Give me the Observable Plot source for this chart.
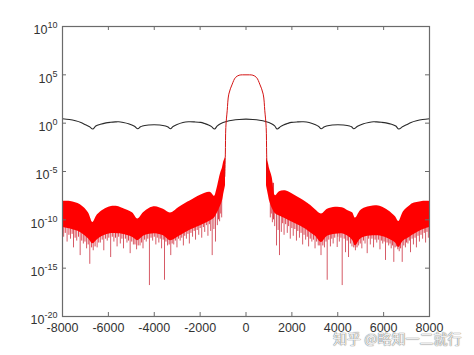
<!DOCTYPE html>
<html>
<head>
<meta charset="utf-8">
<script src="https://cdn.jsdelivr.net/npm/d3@7"></script>
<script src="https://cdn.jsdelivr.net/npm/@observablehq/plot@0.6"></script>
<style>
  html, body { margin: 0; padding: 0; background: #fff; }
  #wrap { position: relative; width: 474px; height: 355px; overflow: hidden; }
  #wm { position: absolute; left: 333px; top: 328px; font-family: "Noto Sans CJK SC", sans-serif;
        font-size: 14px; color: rgba(255,255,255,0.9); text-shadow: 0 0 1px #666, 0 0 1px #888; white-space: nowrap; }
</style>
</head>
<body>
<div id="wrap"><div id="chart"></div><div id="wm">知乎 @略知一二就行</div></div>
<script>
// ---- tick values ----
const xTicks = [-8000, -6000, -4000, -2000, 0, 2000, 4000, 6000, 8000];
const yTickExps = [10, 5, 0, -5, -10, -15, -20];

// ---- black curve: [x, log10(value)] ----
const blackCurve = [
  [-8000, 0.46], [-7700, 0.38], [-7434, 0.25], [-7200, 0.08], [-6998, -0.17], [-6820, -0.38], [-6680, -0.61],
  [-6550, -0.30], [-6344, -0.11], [-6100, 0.03], [-5908, 0.09], [-5700, 0.13], [-5559, 0.14], [-5350, 0.07],
  [-5123, -0.06], [-4862, -0.32], [-4717, -0.58], [-4600, -0.38], [-4513, -0.29], [-4250, -0.19], [-4007, -0.16],
  [-3760, -0.19], [-3510, -0.30], [-3400, -0.40], [-3292, -0.58], [-3180, -0.35], [-3030, -0.17], [-2750, 0.06],
  [-2507, 0.14], [-2250, 0.13], [-1984, 0.08], [-1800, -0.04], [-1635, -0.18], [-1500, -0.36], [-1373, -0.61],
  [-1250, -0.28], [-1112, -0.06], [-850, 0.17], [-589, 0.30], [-300, 0.38], [0, 0.42], [300, 0.38], [589, 0.30],
  [850, 0.17], [1112, -0.06], [1250, -0.28], [1360, -0.61], [1500, -0.36], [1635, -0.18], [1800, -0.04],
  [1984, 0.08], [2250, 0.13], [2507, 0.14], [2750, 0.06], [3030, -0.17], [3170, -0.35], [3279, -0.58],
  [3400, -0.40], [3510, -0.30], [3760, -0.19], [4007, -0.16], [4250, -0.19], [4513, -0.29], [4600, -0.38],
  [4700, -0.58], [4862, -0.32], [5123, -0.06], [5350, 0.07], [5559, 0.14], [5700, 0.13], [5908, 0.09],
  [6100, 0.03], [6344, -0.11], [6530, -0.30], [6662, -0.61], [6820, -0.38], [6998, -0.17], [7200, 0.08],
  [7434, 0.25], [7700, 0.38], [8000, 0.46]
];

// ---- red main lobe: [x, log10(value)] ----
const mainLobe = [
  [-925, -5.5], [-900, -3.2], [-880, -0.45], [-820, 1.28], [-750, 3.0], [-600, 4.04], [-460, 4.72],
  [-300, 4.96], [-150, 5.0], [0, 5.0], [150, 5.0], [300, 4.96], [460, 4.72], [600, 4.04], [750, 3.0],
  [820, 1.28], [880, -0.45], [900, -3.2], [925, -5.5]
];

// ---- red side-lobe band: [x, log10(top), log10(bottom)] ----
const leftBand = [
  [-8000, -8.10, -10.79], [-7650, -8.10, -10.95], [-7220, -8.44, -11.30], [-6870, -9.27, -11.96],
  [-6680, -10.27, -12.48], [-6475, -9.48, -12.05], [-6200, -8.95, -11.65], [-5910, -8.65, -11.44],
  [-5600, -8.62, -11.45], [-5385, -8.80, -11.50], [-4950, -9.27, -11.80], [-4717, -9.92, -12.16],
  [-4470, -9.27, -11.70], [-4200, -8.80, -11.50], [-3950, -8.65, -11.44], [-3600, -8.91, -11.65],
  [-3292, -9.30, -12.16], [-2940, -8.75, -11.75], [-2640, -8.30, -11.34], [-2420, -8.03, -11.05],
  [-1984, -7.46, -10.61], [-1548, -7.17, -10.10], [-1373, -7.56, -9.80], [-1286, -6.99, -9.48],
  [-1112, -5.23, -8.60], [-1025, -4.60, -8.03], [-981, -4.10, -7.50], [-894, -3.55, -6.48]
];
const rightBand = [
  [894, -3.55, -6.48], [981, -4.20, -7.50], [1025, -4.70, -8.03], [1142, -5.62, -8.80],
  [1286, -7.51, -9.37], [1461, -7.10, -9.60], [1722, -7.00, -9.89], [2158, -7.51, -10.41],
  [2594, -8.13, -10.95], [2812, -8.50, -11.34], [3030, -8.96, -11.70], [3292, -9.40, -12.34],
  [3553, -8.91, -11.70], [3900, -8.70, -11.50], [4200, -8.75, -11.44], [4450, -9.05, -11.70],
  [4644, -9.27, -12.10], [4774, -9.82, -12.68], [4992, -9.06, -12.00], [5210, -8.75, -11.75],
  [5646, -8.54, -11.65], [5900, -8.65, -11.70], [6213, -9.06, -11.96], [6518, -9.68, -12.40],
  [6662, -10.17, -12.86], [6867, -9.16, -12.20], [7172, -8.50, -11.75], [7259, -8.34, -11.60],
  [7682, -8.10, -11.05], [8000, -8.10, -10.79]
];

// ---- long downward spikes below the band: [x, log10(minimum)] ----
const spikes = [
  [-7950, -11.8], [-7800, -12.3], [-7650, -12.0], [-7520, -12.9], [-7380, -12.2], [-7230, -13.7],
  [-7090, -12.5], [-6950, -13.0], [-6810, -14.6], [-6660, -13.2], [-6490, -12.9], [-6350, -12.4],
  [-6200, -13.2], [-6050, -12.2], [-5900, -13.9], [-5760, -12.3], [-5620, -12.8], [-5480, -12.5],
  [-5340, -13.0], [-5190, -12.4], [-5050, -13.5], [-4910, -12.6], [-4770, -13.1], [-4620, -12.7],
  [-4490, -13.0], [-4350, -12.3], [-4210, -16.8], [-4070, -12.2], [-3930, -12.6], [-3800, -12.4],
  [-3680, -13.0], [-3553, -16.25], [-3420, -12.7], [-3280, -13.7], [-3150, -12.6], [-3010, -12.9],
  [-2870, -12.2], [-2730, -12.7], [-2600, -12.0], [-2470, -12.5], [-2330, -11.8], [-2200, -12.1],
  [-2060, -11.6], [-1930, -11.9], [-1800, -11.3], [-1660, -11.7], [-1540, -11.2], [-1474, -13.7],
  [-1400, -11.0], [-1330, -12.3], [-1250, -10.6], [-1150, -10.2], [-1060, -9.8],
  [1060, -9.8], [1150, -10.3], [1250, -10.7], [1330, -12.7], [1400, -11.1], [1460, -13.7],
  [1540, -11.3], [1660, -11.6], [1800, -11.4], [1930, -12.0], [2060, -11.7], [2200, -12.2],
  [2330, -11.9], [2470, -12.6], [2600, -12.1], [2730, -12.8], [2870, -12.3], [3010, -13.0],
  [3150, -12.7], [3270, -13.7], [3420, -12.9], [3540, -16.25], [3680, -12.8], [3800, -12.5],
  [3976, -12.86], [4070, -12.3], [4194, -16.8], [4338, -13.4], [4470, -13.9], [4620, -12.8],
  [4770, -13.2], [4910, -12.7], [5050, -13.0], [5190, -12.5], [5284, -13.5], [5420, -12.6],
  [5560, -12.9], [5700, -12.4], [5840, -13.1], [5960, -12.5], [6082, -14.2], [6220, -12.7],
  [6330, -13.0], [6444, -14.4], [6560, -12.8], [6680, -13.3], [6810, -14.4], [6950, -12.9],
  [7060, -12.5], [7172, -13.4], [7300, -12.6], [7430, -12.9], [7560, -12.3], [7700, -12.0],
  [7830, -12.4], [7950, -11.9]
];
// ---- short fringe spikes just under the band: [x, log10(minimum)] ----
const fringe = [
  [-7880, -11.4], [-7720, -11.6], [-7580, -11.5], [-7450, -11.9], [-7300, -11.8], [-7160, -12.2],
  [-7020, -12.3], [-6880, -12.6], [-6730, -12.9], [-6580, -12.8], [-6420, -12.4], [-6270, -12.1],
  [-6120, -12.0], [-5980, -11.9], [-5830, -11.8], [-5690, -11.9], [-5550, -11.8], [-5410, -12.0],
  [-5260, -12.0], [-5120, -12.2], [-4980, -12.3], [-4840, -12.6], [-4700, -12.7], [-4550, -12.4],
  [-4420, -12.1], [-4280, -12.0], [-4140, -11.9], [-4000, -11.8], [-3870, -11.9], [-3740, -12.0],
  [-3610, -12.1], [-3490, -12.3], [-3350, -12.6], [-3220, -12.5], [-3080, -12.2], [-2940, -12.0],
  [-2800, -11.9], [-2670, -11.7], [-2530, -11.5], [-2400, -11.4], [-2260, -11.2], [-2130, -11.1],
  [-2000, -10.9], [-1860, -10.8], [-1730, -10.6], [-1600, -10.5], [-1200, -10.0], [-1100, -9.4],
  [1100, -9.4], [1200, -10.0], [1600, -10.4], [1730, -10.5], [1860, -10.7], [2000, -10.9],
  [2130, -11.0], [2260, -11.2], [2400, -11.4], [2530, -11.6], [2670, -11.8], [2800, -12.0],
  [2940, -12.1], [3080, -12.3], [3220, -12.7], [3350, -12.7], [3490, -12.3], [3610, -12.1],
  [3740, -12.0], [3870, -11.9], [4000, -11.8], [4140, -11.9], [4280, -12.0], [4410, -12.2],
  [4550, -12.5], [4700, -12.9], [4840, -12.9], [4980, -12.5], [5120, -12.2], [5350, -12.0],
  [5490, -12.0], [5630, -12.1], [5770, -12.1], [5900, -12.2], [6020, -12.3], [6150, -12.4],
  [6280, -12.5], [6390, -12.7], [6500, -12.9], [6620, -13.1], [6740, -13.0], [6880, -12.7],
  [7000, -12.4], [7120, -12.2], [7240, -12.0], [7370, -11.9], [7500, -11.7], [7630, -11.6],
  [7770, -11.4], [7890, -11.3]
];

// ---- build tables ----
const band = [
  ...leftBand.map(([x, t, b]) => ({side: "L", x, top: t, bottom: b})),
  ...rightBand.map(([x, t, b]) => ({side: "R", x, top: t, bottom: b}))
];
// a spike starts inside the band: use the band's nearest top value, a little lower
function bandTopAt(x) {
  const arr = x < 0 ? leftBand : rightBand;
  const i = d3.bisector(d => d[0]).center(arr, x);
  return arr[i][1] - 0.6;
}

const fw = 474, fh = 355, mL = 62, mR = 45, mT = 26, mB = 39;
const innerW = fw - mL - mR, innerH = fh - mT - mB;
const tickLen = 4, axisColor = "#6b6b6b";
const yTickVals = yTickExps.map(e => 10 ** e);

const chart = Plot.plot({
  width: fw, height: fh,
  marginLeft: mL, marginRight: mR, marginTop: mT, marginBottom: mB,
  style: {fontFamily: "'Liberation Sans', Arial, sans-serif", fontSize: "12.5px", color: "#333", background: "#fff"},
  x: {domain: [-8000, 8000], ticks: xTicks, tickSize: 0, tickPadding: 7, tickFormat: d => String(d), label: null},
  y: {type: "log", domain: [1e-20, 1e10], ticks: yTickVals, tickSize: 0, tickPadding: 5, label: null,
      tickFormat: d => "E" + Math.round(Math.log10(d))},
  marks: [
    Plot.line(blackCurve, {x: d => d[0], y: d => 10 ** d[1], stroke: "#2a2a2a", strokeWidth: 1.1, curve: "catmull-rom"}),
    Plot.ruleX(fringe, {x: d => d[0], y1: d => 10 ** d[1], y2: d => 10 ** bandTopAt(d[0]),
      stroke: "#e03c48", strokeWidth: 1}),
    Plot.ruleX(spikes, {x: d => d[0], y1: d => 10 ** d[1], y2: d => 10 ** bandTopAt(d[0]),
      stroke: "#d65a66", strokeWidth: 1}),
    Plot.areaY(band, {x: "x", y1: d => 10 ** d.bottom, y2: d => 10 ** d.top, z: "side", fill: "#ff0000", curve: "catmull-rom"}),
    Plot.line(mainLobe, {x: d => d[0], y: d => 10 ** d[1], stroke: "#d41414", strokeWidth: 1, curve: "catmull-rom"}),
    // inward ticks on all four sides
    Plot.ruleX(xTicks, {x: d => d, insetTop: innerH - tickLen, stroke: axisColor}),
    Plot.ruleX(xTicks, {x: d => d, insetBottom: innerH - tickLen, stroke: axisColor}),
    Plot.ruleY(yTickVals, {y: d => d, insetRight: innerW - tickLen, stroke: axisColor}),
    Plot.ruleY(yTickVals, {y: d => d, insetLeft: innerW - tickLen, stroke: axisColor}),
    Plot.frame({stroke: axisColor, strokeWidth: 1.2})
  ]
});
document.getElementById("chart").appendChild(chart);

// turn "E5" labels into 10 with a superscript exponent
chart.querySelectorAll('g[aria-label="y-axis tick label"] text').forEach(t => {
  const m = /^E(-?\d+)$/.exec(t.textContent.trim());
  if (!m) return;
  t.textContent = "";
  const ns = "http://www.w3.org/2000/svg";
  const base = document.createElementNS(ns, "tspan");
  base.textContent = "10";
  base.setAttribute("dy", "0.3em");
  const sup = document.createElementNS(ns, "tspan");
  sup.textContent = m[1];
  sup.setAttribute("dy", "-0.65em");
  sup.setAttribute("font-size", "9px");
  t.appendChild(base);
  t.appendChild(sup);
});
</script>
</body>
</html>
